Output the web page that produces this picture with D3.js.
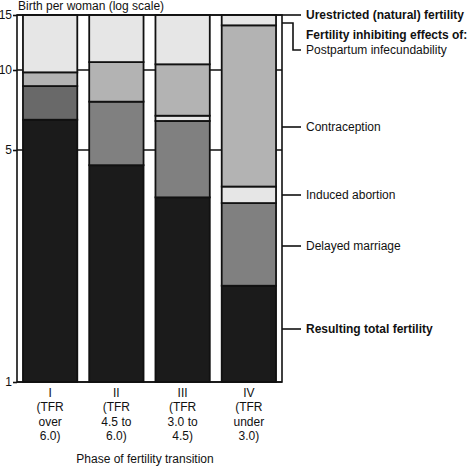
<!DOCTYPE html>
<html>
<head>
<meta charset="utf-8">
<script src="https://cdn.jsdelivr.net/npm/d3@7"></script>
<style>
    body { margin: 0; background: #fff; }
    text { font-family: "Liberation Sans", Arial, sans-serif; font-size: 12px; fill: #111; }
</style>
</head>
<body>
<div id="chart"></div>
<script>
const phases = ["I", "II", "III", "IV"]
const phaseNotes = [
    ["(TFR", "over", "6.0)"],
    ["(TFR", "4.5 to", "6.0)"],
    ["(TFR", "3.0 to", "4.5)"],
    ["(TFR", "under", "3.0)"]
]
// births per woman reached at the top of each layer (bottom layer first)
const resulting = [6.5, 4.5, 3.6, 1.95]
const afterMarriage = [8.7, 7.6, 6.43, 3.46]
const afterAbortion = [8.7, 7.6, 6.73, 3.88]
const afterContraception = [9.8, 10.6, 10.43, 13.9]
const natural = [15, 15, 15, 15]
const yTicks = [1, 5, 10, 15]

const layers = [
    { key: "result", top: resulting },
    { key: "marriage", top: afterMarriage },
    { key: "abortion", top: afterAbortion },
    { key: "contraception", top: afterContraception },
    { key: "postpartum", top: natural }
]

function fill(key, phase) {
    if (key == "marriage" && phase == "I") return "#696969"
    return { result: "#1b1b1b", marriage: "#808080", abortion: "#e6e6e6",
             contraception: "#b3b3b3", postpartum: "#e6e6e6" }[key]
}

const svg = d3.select("#chart").append("svg")
    .attr("width", 471)
    .attr("height", 466)

const plotLeft = 17, plotRight = 282, plotTop = 15, plotBottom = 382

// ticks in the source are not evenly spaced on the log axis, so piecewise
const y = d3.scaleLog()
    .domain([1, 5, 10, 15])
    .range([plotBottom, 150, 70, plotTop])

const x = d3.scaleBand()
    .domain(phases)
    .range([plotLeft, plotRight])
    .paddingInner(0.18)
    .paddingOuter(0.09)

// gridlines
svg.append("g")
    .selectAll("line")
    .data(yTicks)
    .enter().append("line")
    .attr("x1", plotLeft)
    .attr("x2", plotRight)
    .attr("y1", d => y(d))
    .attr("y2", d => y(d))
    .attr("stroke", "#111")
    .attr("stroke-width", 1.6)

// stacked segments
const segs = []
layers.forEach((layer, i) => {
    phases.forEach((p, j) => {
        const lo = i == 0 ? 1 : layers[i - 1].top[j]
        const hi = layer.top[j]
        if (hi > lo) segs.push({ key: layer.key, phase: p, lo: lo, hi: hi })
    })
})

svg.append("g")
    .selectAll("rect")
    .data(segs)
    .enter().append("rect")
    .attr("x", d => x(d.phase))
    .attr("y", d => y(d.hi))
    .attr("width", x.bandwidth())
    .attr("height", d => y(d.lo) - y(d.hi))
    .attr("fill", d => fill(d.key, d.phase))
    .attr("stroke", "#111")
    .attr("stroke-width", 1.8)

// frame
svg.append("rect")
    .attr("x", plotLeft)
    .attr("y", plotTop)
    .attr("width", plotRight - plotLeft)
    .attr("height", plotBottom - plotTop)
    .attr("fill", "none")
    .attr("stroke", "#111")
    .attr("stroke-width", 1.6)

// Y axis
const yAxis = svg.append("g")
    .attr("transform", `translate(${plotLeft},0)`)
    .call(d3.axisLeft(y).tickValues(yTicks).tickFormat(d3.format("d")).tickSize(4).tickPadding(1))
yAxis.select(".domain").remove()
yAxis.selectAll("line").attr("stroke", "#111").attr("stroke-width", 1.6)
yAxis.selectAll("text")
    .attr("font-size", 12)
    .attr("font-family", "Liberation Sans, Arial, sans-serif")
    .attr("fill", "#111")

svg.append("text")
    .attr("x", 18)
    .attr("y", 10)
    .text("Birth per woman (log scale)")

// X labels
const xl = svg.append("g")
    .selectAll("text")
    .data(phases)
    .enter().append("text")
    .attr("text-anchor", "middle")
    .attr("x", d => x(d) + x.bandwidth() / 2)
    .attr("y", 397)
xl.each(function(d, i) {
    const t = d3.select(this)
    const lines = [d].concat(phaseNotes[i])
    lines.forEach((s, k) => {
        t.append("tspan")
            .attr("x", x(d) + x.bandwidth() / 2)
            .attr("dy", k == 0 ? 0 : 14.4)
            .text(s)
    })
})

svg.append("text")
    .attr("x", 145)
    .attr("y", 463)
    .attr("text-anchor", "middle")
    .text("Phase of fertility transition")

// right-hand labels
const labels = [
    { text: "Urestricted (natural) fertility", y: 15, bold: true },
    { text: "Contraception", y: 127 },
    { text: "Induced abortion", y: 195 },
    { text: "Delayed marriage", y: 246 },
    { text: "Resulting total fertility", y: 329, bold: true }
]
const lab = svg.append("g")
labels.forEach(l => {
    lab.append("line")
        .attr("x1", plotRight)
        .attr("x2", 301)
        .attr("y1", l.y)
        .attr("y2", l.y)
        .attr("stroke", "#111")
        .attr("stroke-width", 1.6)
    lab.append("text")
        .attr("x", 306)
        .attr("y", l.y)
        .attr("dy", "0.35em")
        .attr("font-weight", l.bold ? "bold" : null)
        .text(l.text)
})

lab.append("path")
    .attr("d", `M${plotRight},23H293V50H301`)
    .attr("fill", "none")
    .attr("stroke", "#111")
    .attr("stroke-width", 1.6)
lab.append("text")
    .attr("x", 306)
    .attr("y", 35)
    .attr("dy", "0.35em")
    .attr("font-weight", "bold")
    .text("Fertility inhibiting effects of:")
lab.append("text")
    .attr("x", 306)
    .attr("y", 50)
    .attr("dy", "0.35em")
    .text("Postpartum infecundability")
</script>
</body>
</html>
